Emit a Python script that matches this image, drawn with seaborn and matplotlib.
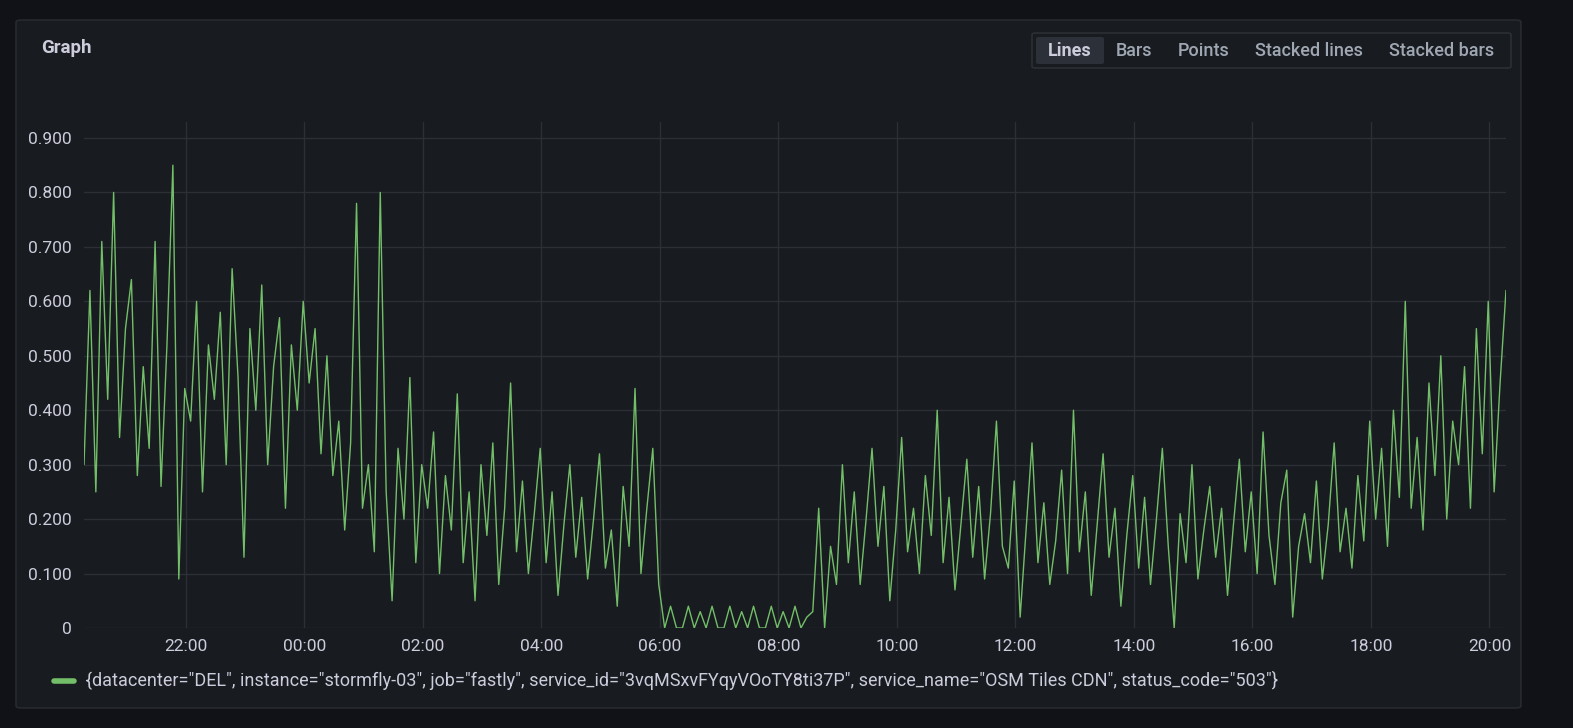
import numpy as np
import pandas as pd
import matplotlib
matplotlib.use("Agg")
import matplotlib.pyplot as plt
from matplotlib.patches import FancyBboxPatch
import seaborn as sns

start_hour = 0.28   # hours after 20:00 of day 1
step_hour = 0.1
values = [
    0.30,0.62,0.25,0.71,0.42,0.80,0.35,0.55,0.64,0.28,0.48,0.33,0.71,0.26,0.52,0.85,0.09,0.44,
    0.38,0.60,0.25,0.52,0.42,0.58,0.30,0.66,0.46,0.13,0.55,0.40,0.63,0.30,0.48,0.57,0.22,0.52,0.40,0.60,
    0.45,0.55,0.32,0.50,0.28,0.38,0.18,0.34,0.78,0.22,0.30,0.14,0.80,0.25,0.05,0.33,0.20,0.46,0.12,0.30,
    0.22,0.36,0.10,0.28,0.18,0.43,0.12,0.25,0.05,0.30,0.17,0.34,0.08,0.22,0.45,0.14,0.27,0.10,0.21,0.33,
    0.12,0.25,0.06,0.19,0.30,0.13,0.24,0.09,0.20,0.32,0.11,0.18,0.04,0.26,0.15,0.44,0.10,0.22,0.33,0.08,
    0.0,0.04,0.0,0.0,0.04,0.0,0.03,0.0,0.04,0.0,0.0,0.04,0.0,0.03,0.0,0.04,0.0,0.0,0.04,0.0,0.03,0.0,0.04,0.0,0.02,
    0.03,0.22,0.0,0.15,0.08,
    0.30,0.12,0.25,0.08,0.20,0.33,0.15,0.26,0.05,0.18,
    0.35,0.14,0.22,0.10,0.28,0.17,0.40,0.12,0.24,0.07,
    0.19,0.31,0.13,0.26,0.09,0.21,0.38,0.15,0.11,0.27,
    0.02,0.18,0.34,0.12,0.23,0.08,0.16,0.29,0.10,0.40,
    0.14,0.25,0.06,0.19,0.32,0.13,0.22,0.04,0.17,0.28,
    0.11,0.24,0.08,0.20,0.33,0.15,0.00,0.21,0.12,0.30,
    0.09,0.18,0.26,0.13,0.22,0.06,0.19,0.31,0.14,0.25,
    0.10,0.36,0.17,0.08,0.23,0.29,0.02,0.15,0.21,0.12,
    0.27,0.09,0.19,0.34,0.14,0.22,0.11,0.28,0.16,0.38,
    0.20,0.33,0.15,0.40,0.24,0.60,0.22,0.35,0.18,0.45,0.28,0.50,0.20,0.38,0.30,0.48,0.22,0.55,0.32,0.60,0.25,0.45,0.62,
]
tick_hours = [2, 4, 6, 8, 10, 12, 14, 16, 18, 20, 22, 24]
tick_labels = ["22:00","00:00","02:00","04:00","06:00","08:00","10:00","12:00","14:00","16:00","18:00","20:00"]
y_ticks = [0, 0.1, 0.2, 0.3, 0.4, 0.5, 0.6, 0.7, 0.8, 0.9]
y_labels = ["0","0.100","0.200","0.300","0.400","0.500","0.600","0.700","0.800","0.900"]
series_name = '{datacenter="DEL", instance="stormfly-03", job="fastly", service_id="3vqMSxvFYqyVOoTY8ti37P", service_name="OSM Tiles CDN", status_code="503"}'
buttons = ["Lines", "Bars", "Points", "Stacked lines", "Stacked bars"]

sns.set_theme(style="dark")
plt.rcParams['font.family'] = ['Roboto', 'DejaVu Sans']

W, H = 1573, 728
fig = plt.figure(figsize=(W/100, H/100), dpi=100, facecolor="#111217")
# panel
fig.patches.append(FancyBboxPatch((16/W, (H-708)/H), (1521-16)/W, (708-20)/H,
                                  boxstyle="round,pad=0,rounding_size=0.003",
                                  transform=fig.transFigure, facecolor="#181b1f",
                                  edgecolor="#2a2d33", linewidth=1, zorder=-10))
fig.text(41/W, 1-48/H, "Graph", color="#ccccdc", fontsize=13.5, fontweight="bold", va="center")
# button group
fig.patches.append(FancyBboxPatch((1032/W, 1-68/H), (1511-1032)/W, 35/H,
                                  boxstyle="round,pad=0,rounding_size=0.002",
                                  transform=fig.transFigure, facecolor="#181b1f",
                                  edgecolor="#2f3238", linewidth=1, zorder=-5))
fig.patches.append(FancyBboxPatch((1036/W, 1-64/H), (1104-1036)/W, 27/H,
                                  boxstyle="round,pad=0,rounding_size=0.002",
                                  transform=fig.transFigure, facecolor="#2c3038",
                                  edgecolor="none", zorder=-4))
for name, cx in zip(buttons, [1070, 1134, 1204, 1309, 1442]):
    fig.text(cx/W, 1-51/H, name, color="#ccccdc" if name == "Lines" else "#9fa7b3",
             fontsize=13, fontweight="bold" if name == "Lines" else "medium",
             ha="center", va="center")

ax = fig.add_axes([84/W, 1-628/H, (1506-84)/W, (628-122)/H])
ax.set_facecolor("#181b1f")
t = start_hour + step_hour*np.arange(len(values))
df = pd.DataFrame({"t": t, "v": values})
sns.lineplot(data=df, x="t", y="v", ax=ax, color="#73bf69", linewidth=1)
ax.set_xlim(start_hour, start_hour + (1506-84)/59.25)
ax.set_ylim(0, 0.9 + 16*0.9/490)
ax.set_xticks(tick_hours)
ax.set_xticklabels(tick_labels)
ax.set_yticks(y_ticks)
ax.set_yticklabels(y_labels)
ax.set_xlabel(""); ax.set_ylabel("")
ax.grid(True, color="#2c2f35", linewidth=1)
for s in ax.spines.values():
    s.set_visible(False)
ax.tick_params(colors="#ccccdc", labelsize=12.5, length=0, pad=8)
ax.tick_params(axis="y", pad=9)

# legend
fig.lines.append(plt.Line2D([54/W, 74/W], [1-681/H]*2, transform=fig.transFigure,
                            color="#73bf69", linewidth=4, solid_capstyle="round"))
fig.text(86/W, 1-680/H, series_name, color="#ccccdc", fontsize=13, va="center")

fig.savefig("out.png", dpi=100, facecolor=fig.get_facecolor())
